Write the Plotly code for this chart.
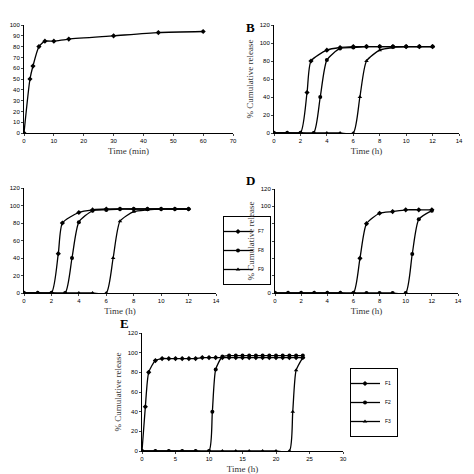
import plotly.graph_objects as go

# Panel A
a_t = [0, 2, 3, 5, 7, 10, 15, 30, 45, 60]
a_v = [0, 50, 62, 80, 85, 85, 87, 90, 93, 94]
# Panel B
b_names = ["F4", "F5", "F6"]
b_x = [[0, 1, 2, 2.5, 2.8, 4, 5, 6, 7, 8, 9, 10, 11, 12],
       [0, 1, 2, 3, 3.5, 4, 5, 6, 7, 8, 9, 10, 11, 12],
       [0, 1, 2, 3, 4, 5, 6, 6.5, 7, 8, 9, 10, 11, 12]]
b_y = [[0, 0, 0, 45, 80, 92, 95, 96, 96, 96, 96, 96, 96, 96],
       [0, 0, 0, 0, 40, 81, 94, 95, 96, 96, 96, 96, 96, 96],
       [0, 0, 0, 0, 0, 0, 0, 40, 80, 92, 95, 96, 96, 96]]
# Panel C
c_names = ["F7", "F8", "F9"]
c_x = b_x
c_y = [[0, 0, 0, 45, 80, 92, 95, 96, 96, 96, 96, 96, 96, 96],
       [0, 0, 0, 0, 40, 81, 94, 95, 96, 96, 96, 96, 96, 96],
       [0, 0, 0, 0, 0, 0, 0, 40, 82, 93, 95, 96, 96, 96]]
# Panel D
d_names = ["F10", "F11"]
d_x = [[0, 1, 2, 3, 4, 5, 6, 6.5, 7, 8, 9, 10, 11, 12],
       [0, 1, 2, 3, 4, 5, 6, 7, 8, 9, 10, 10.5, 11, 12]]
d_y = [[0, 0, 0, 0, 0, 0, 0, 40, 80, 92, 94, 96, 96, 96],
       [0, 0, 0, 0, 0, 0, 0, 0, 0, 0, 0, 45, 85, 95]]
# Panel E
e_names = ["F1", "F2", "F3"]
e_x = [[0, 0.5, 1, 2, 3, 4, 5, 6, 7, 8, 9, 10, 11, 12, 13, 14, 15, 16, 17, 18, 19, 20, 21, 22, 23, 24],
       [0, 2, 4, 6, 8, 10, 10.5, 11, 12, 13, 14, 15, 16, 17, 18, 19, 20, 21, 22, 23, 24],
       [0, 2, 4, 6, 8, 10, 12, 14, 16, 18, 20, 22, 22.5, 23, 24]]
e_y = [[0, 45, 80, 92, 94, 94, 94, 94, 94, 94, 95, 95, 95, 95, 95, 95, 95, 95, 95, 95, 95, 95, 95, 95, 95, 95],
       [0, 0, 0, 0, 0, 0, 40, 83, 96, 97, 97, 97, 97, 97, 97, 97, 97, 97, 97, 97, 97],
       [0, 0, 0, 0, 0, 0, 0, 0, 0, 0, 0, 0, 40, 82, 95]]

symbols = ["diamond", "circle", "triangle-up"]
W = H = 474
fig = go.Figure()

def px(x0, x1):
    return [x0 / W, x1 / W]
def py(top, bot):
    return [1 - bot / H, 1 - top / H]

tickf = dict(family="Arial", size=6, color="black")
titf = dict(family="Liberation Serif", size=9, color="#333")
xtitle_of = {1: "Time (min)", 2: "Time (h)", 3: "Time (h)", 4: "Time (h)", 5: "Time (h)"}

def add_axes(i, xd, yd, xr, xdt, yr, ydt, ytitle):
    sfx = "" if i == 1 else str(i)
    common = dict(showgrid=False, zeroline=False, showline=True, linecolor="black", linewidth=1,
                  ticks="outside", ticklen=2, tickfont=tickf, automargin=False)
    fig.update_layout(**{
        "xaxis" + sfx: dict(domain=xd, range=xr, dtick=xdt, anchor="y" + sfx,
                            title=dict(text=xtitle_of[i], font=titf, standoff=4), **common),
        "yaxis" + sfx: dict(domain=yd, range=yr, dtick=ydt, anchor="x" + sfx,
                            title=dict(text=ytitle, font=titf, standoff=4), **common),
    })

add_axes(1, px(16, 225), py(17, 125), [0, 70], 10, [0, 100], 10, "")
add_axes(2, px(266, 451), py(17, 125), [0, 14], 2, [0, 120], 20, "% Cumulative release")
add_axes(3, px(16, 208), py(180, 285), [0, 14], 2, [0, 120], 20, "")
add_axes(4, px(267, 450), py(181, 285), [0, 14], 2, [0, 120], 20, "% Cumulative release")
add_axes(5, px(134, 335), py(325, 443), [0, 30], 5, [0, 120], 20, "% Cumulative release")

line = dict(color="black", width=1.3, shape="spline", smoothing=0.6)

fig.add_trace(go.Scatter(x=a_t, y=a_v, mode="lines+markers", line=line,
                         marker=dict(symbol="diamond", size=4, color="black"),
                         showlegend=False, xaxis="x", yaxis="y"))

def add_group(names, xs, ys, ax, leg):
    for k, (n, x, y) in enumerate(zip(names, xs, ys)):
        fig.add_trace(go.Scatter(x=x, y=y, name=n, mode="lines+markers", line=line,
                                 marker=dict(symbol=symbols[k], size=4, color="black"),
                                 xaxis="x" + ax, yaxis="y" + ax, legend=leg))

add_group(b_names, b_x, b_y, "2", "legend")
add_group(c_names, c_x, c_y, "3", "legend2")
add_group(d_names, d_x, d_y, "4", "legend3")
add_group(e_names, e_x, e_y, "5", "legend4")

legstyle = dict(bordercolor="black", borderwidth=1, font=dict(family="Arial", size=5, color="black"),
                bgcolor="white", xanchor="left", yanchor="top", tracegroupgap=0, itemwidth=30,
                indentation=-6)
fig.update_layout(
    legend=dict(x=458 / W, y=1 - 22 / H, **legstyle),
    legend2=dict(x=215 / W, y=1 - 208 / H, **legstyle),
    legend3=dict(x=460 / W, y=1 - 228 / H, **legstyle),
    legend4=dict(x=342 / W, y=1 - 360 / H, **legstyle),
)

for txt, x, y in [("B", 242, 10), ("D", 242, 172), ("E", 110, 325)]:
    fig.add_annotation(text="<b>" + txt + "</b>", x=x / W, y=1 - y / H, xref="paper", yref="paper",
                       showarrow=False, font=dict(family="Liberation Serif", size=13, color="black"))

fig.update_layout(width=W, height=H, margin=dict(l=0, r=0, t=0, b=0, autoexpand=False),
                  paper_bgcolor="white", plot_bgcolor="white")
fig.write_html("out.html")
